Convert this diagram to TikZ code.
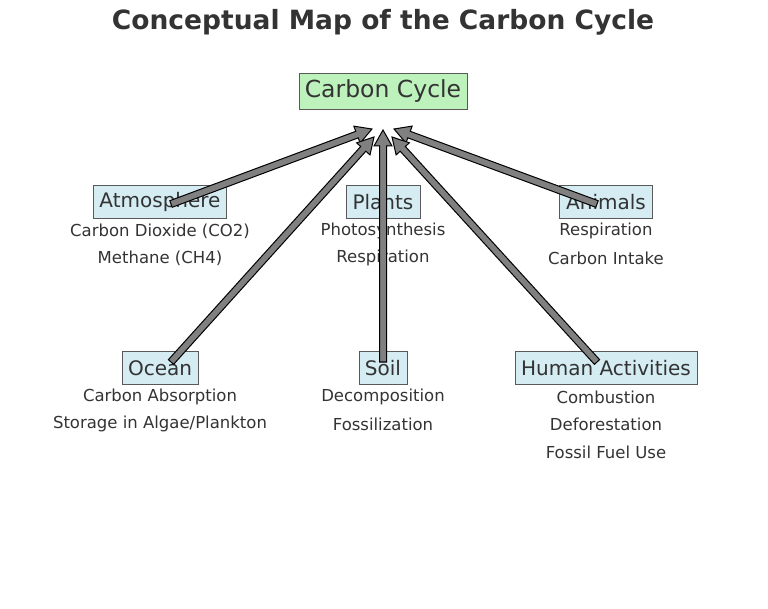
\documentclass[tikz,border=0pt]{standalone}
\usepackage{fontspec}
\setmainfont{DejaVu Sans}
\usetikzlibrary{calc}
\definecolor{txt}{HTML}{333333}
\definecolor{boxb}{HTML}{D4ECF2}
\definecolor{boxg}{HTML}{BDF2BD}
\begin{document}
\begin{tikzpicture}[x=1pt,y=-1pt,
  cat/.style={draw=gray!70!black,fill=boxb,text=txt,font=\fontsize{20}{22}\selectfont,inner xsep=2pt,inner ysep=2pt},
  sub/.style={text=txt,font=\fontsize{16.5}{18}\selectfont},
  fat/.style={draw=black,fill=gray,line width=1pt}]
\useasboundingbox (0,0) rectangle (768,609);
\node[text=txt,font=\bfseries\fontsize{26.5}{30}\selectfont] (title) at (383,22) {Conceptual Map of the Carbon Cycle};
\node[draw=gray!70!black,fill=boxg,text=txt,font=\fontsize{23.5}{26}\selectfont,inner sep=2pt,minimum width=168pt,minimum height=36pt] (cc) at (383,91) {Carbon Cycle};
\node[cat,minimum width=133pt,minimum height=33pt] (atm) at (160,202) {Atmosphere};
\node[cat,minimum width=74pt,minimum height=33pt] (pl) at (383,202) {Plants};
\node[cat,minimum width=93pt,minimum height=33pt] (an) at (606,202) {Animals};
\node[cat,minimum width=76pt,minimum height=33pt] (oc) at (160,368) {Ocean};
\node[cat,minimum width=48pt,minimum height=33pt] (so) at (383,368) {Soil};
\node[cat,minimum width=182pt,minimum height=33pt] (hu) at (606,368) {Human Activities};
\node[sub] (a1) at (160,231) {Carbon Dioxide (CO2)};
\node[sub] (a2) at (160,258) {Methane (CH4)};
\node[sub] (p1) at (383,231) {Photosynthesis};
\node[sub] (p2) at (383,258) {Respiration};
\node[sub] (n1) at (606,231) {Respiration};
\node[sub] (n2) at (606,258) {Carbon Intake};
\node[sub] (o1) at (160,397) {Carbon Absorption};
\node[sub] (o2) at (160,424) {Storage in Algae/Plankton};
\node[sub] (s1) at (383,397) {Decomposition};
\node[sub] (s2) at (383,424) {Fossilization};
\node[sub] (h1) at (606,397) {Combustion};
\node[sub] (h2) at (606,424) {Deforestation};
\node[sub] (h3) at (606,452) {Fossil Fuel Use};
\coordinate (sA) at (171,204); \coordinate (eA) at (372,129);
\coordinate (sO) at (171,362); \coordinate (eO) at (374,137);
\coordinate (sS) at (383,362); \coordinate (eS) at (383,130);
\coordinate (sN) at (597,204); \coordinate (eN) at (394,129);
\coordinate (sH) at (597,362); \coordinate (eH) at (392,137);
\foreach \s/\e in {sA/eA,sO/eO,sS/eS,sN/eN,sH/eH}{
  \path let \p1=(\s), \p2=(\e), \n1={atan2(\y2-\y1,\x2-\x1)}, \n2={veclen(\x2-\x1,\y2-\y1)} in
    [shift={(\p1)}, rotate=\n1]
    [fat] (0pt,-3.5pt) -- (\n2-16pt,-3.5pt) -- (\n2-16pt,-9pt) -- (\n2,0pt) -- (\n2-16pt,9pt) -- (\n2-16pt,3.5pt) -- (0pt,3.5pt) -- cycle;
}
\end{tikzpicture}
\end{document}
